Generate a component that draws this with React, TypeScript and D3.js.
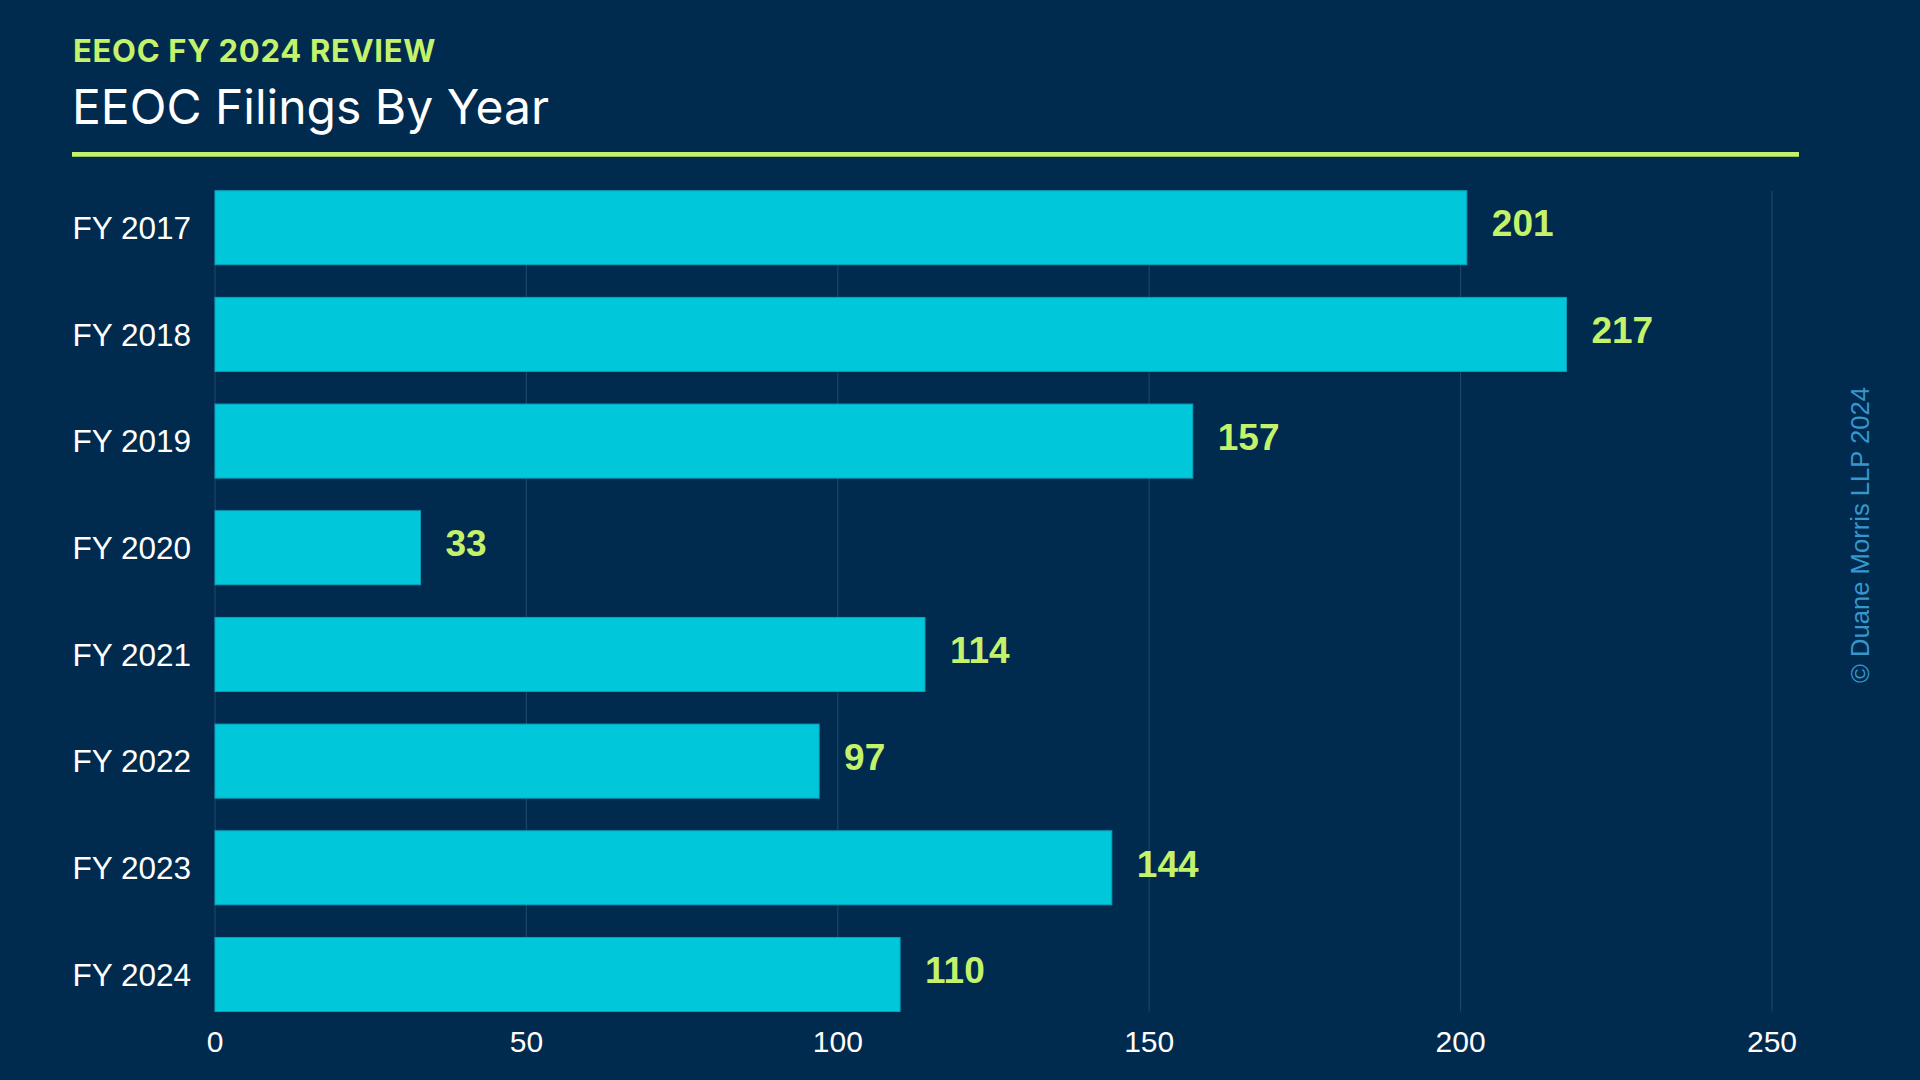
import React from "react";
import * as d3 from "d3";

const categories: string[] = ["FY 2017", "FY 2018", "FY 2019", "FY 2020", "FY 2021", "FY 2022", "FY 2023", "FY 2024"];
const filings: number[] = [201, 217, 157, 33, 114, 97, 144, 110];
const xTicks: number[] = [0, 50, 100, 150, 200, 250];
const subtitle = "EEOC FY 2024 REVIEW";
const title = "EEOC Filings By Year";
const credit = "© Duane Morris LLP 2024";

const W = 1920;
const H = 1080;
const BG = "#002a4e";
const BAR = "#00c8da";
const BAR_EDGE = "#0aa2bb";
const LIME = "#c4f36b";
const GRID = "#1e4468";
const CREDIT = "#3597cc";

export default function App() {
  const x = d3.scaleLinear().domain([0, 250]).range([215, 1772]);
  const y = d3.scaleBand<string>().domain(categories).range([190.7, 1011.5]).paddingInner(0.306).paddingOuter(0);
  const bw = y.bandwidth();
  const [top, bottom] = y.range();

  return (
    <svg width={W} height={H} viewBox={`0 0 ${W} ${H}`} style={{ position: "absolute", left: 0, top: 0, display: "block" }}>
      <rect x={0} y={0} width={W} height={H} fill={BG} />
      <text x={73} y={62.3} fill={LIME} fontFamily="Inter, 'Noto Sans', sans-serif" fontWeight={700} fontSize={31} letterSpacing={0.7}>
        {subtitle}
      </text>
      <text x={72} y={124} fill="#ffffff" fontFamily="Inter, 'Noto Sans', sans-serif" fontWeight={400} fontSize={48}>
        {title}
      </text>
      <line x1={72} x2={1799} y1={154.4} y2={154.4} stroke={LIME} strokeWidth={4.6} />

      {xTicks.map((t) => (
        <line key={"g" + t} x1={x(t)} x2={x(t)} y1={top} y2={bottom} stroke={GRID} strokeWidth={1.2} />
      ))}

      {categories.map((c, i) => (
        <g key={c}>
          <rect
            x={x(0)}
            y={y(c)!}
            width={x(filings[i]) - x(0)}
            height={bw}
            fill={BAR}
            stroke={BAR_EDGE}
            strokeWidth={1}
          />
          <text
            x={191}
            y={y(c)! + bw / 2 + 11.2}
            textAnchor="end"
            fill="#ffffff"
            fontFamily="'Liberation Sans', Arial, sans-serif"
            fontSize={31.5}
          >
            {c}
          </text>
          <text
            x={x(filings[i]) + 25}
            y={y(c)! + bw / 2 + 8.7}
            fill={LIME}
            fontFamily="'Liberation Sans', Arial, sans-serif"
            fontWeight={700}
            fontSize={37}
          >
            {filings[i]}
          </text>
        </g>
      ))}

      {xTicks.map((t) => (
        <text
          key={"t" + t}
          x={x(t)}
          y={1051.7}
          textAnchor="middle"
          fill="#ffffff"
          fontFamily="'Liberation Sans', Arial, sans-serif"
          fontSize={30}
        >
          {t}
        </text>
      ))}

      <text
        transform={`translate(1869.3, 535) rotate(-90)`}
        textAnchor="middle"
        fill={CREDIT}
        fontFamily="'Liberation Sans', Arial, sans-serif"
        fontSize={25.6}
      >
        {credit}
      </text>
    </svg>
  );
}
